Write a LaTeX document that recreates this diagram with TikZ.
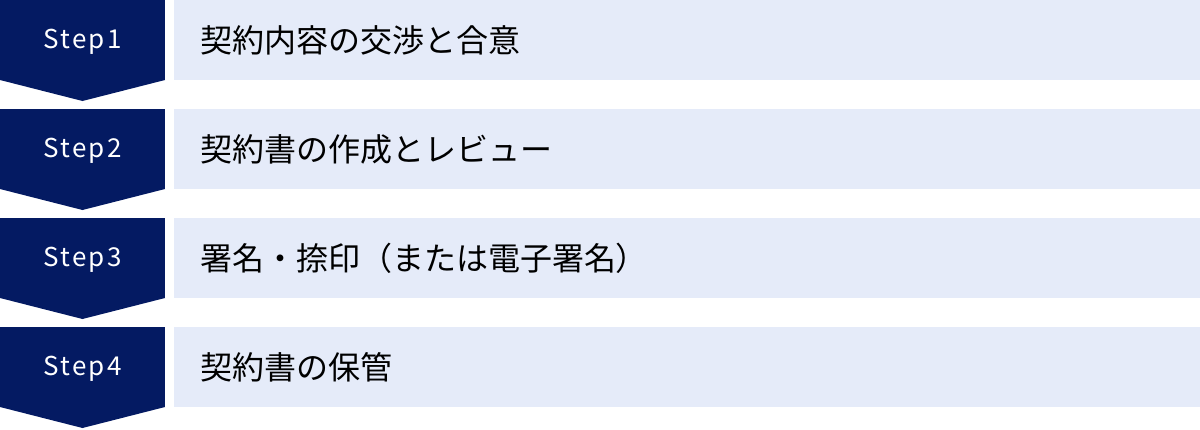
\documentclass[tikz,border=0pt]{standalone}
\usepackage{fontspec}
\setmainfont{Noto Sans CJK JP}
\newfontfamily\stepfont[LetterSpace=9]{Noto Sans CJK JP}
\usetikzlibrary{positioning}

\definecolor{stepnavy}{HTML}{041A62}
\definecolor{boxblue}{HTML}{E5EBF9}

\begin{document}
\begin{tikzpicture}[
  x=1pt, y=1pt,
  stepstyle/.style={
        fill=stepnavy,
        text=white,
        minimum width=165pt,
        minimum height=80pt,
        text height=17pt,
        text depth=0pt,
        inner sep=0pt,
        outer sep=0pt,
        font=\stepfont\fontsize{26}{30}\selectfont
  },
  boxstyle/.style={
        fill=boxblue,
        text=black,
        minimum height=80pt,
        text width=974pt,
        align=left,
        inner xsep=26pt,
        inner ysep=0pt,
        outer sep=0pt,
        font=\fontsize{32}{38}\selectfont
  }
]

    \useasboundingbox (0,0) rectangle (1200,-429);

    \node[stepstyle, anchor=north west] (S1) at (0,0) {Step1};
    \node[boxstyle, right=9pt of S1] (B1) {契約内容の交渉と合意};
    \node[stepstyle, below=29pt of S1] (S2) {Step2};
    \node[boxstyle, right=9pt of S2] (B2) {契約書の作成とレビュー};
    \node[stepstyle, below=29pt of S2] (S3) {Step3};
    \node[boxstyle, right=9pt of S3] (B3) {署名・捺印（または電子署名）};
    \node[stepstyle, below=29pt of S3] (S4) {Step4};
    \node[boxstyle, right=9pt of S4] (B4) {契約書の保管};

    % arrow tips under the steps
    \fill[stepnavy] (S1.south west) -- (S1.south east) -- ([yshift=-21pt]S1.south) -- cycle;
    \fill[stepnavy] (S2.south west) -- (S2.south east) -- ([yshift=-21pt]S2.south) -- cycle;
    \fill[stepnavy] (S3.south west) -- (S3.south east) -- ([yshift=-21pt]S3.south) -- cycle;
    \fill[stepnavy] (S4.south west) -- (S4.south east) -- ([yshift=-21pt]S4.south) -- cycle;
\end{tikzpicture}
\end{document}
